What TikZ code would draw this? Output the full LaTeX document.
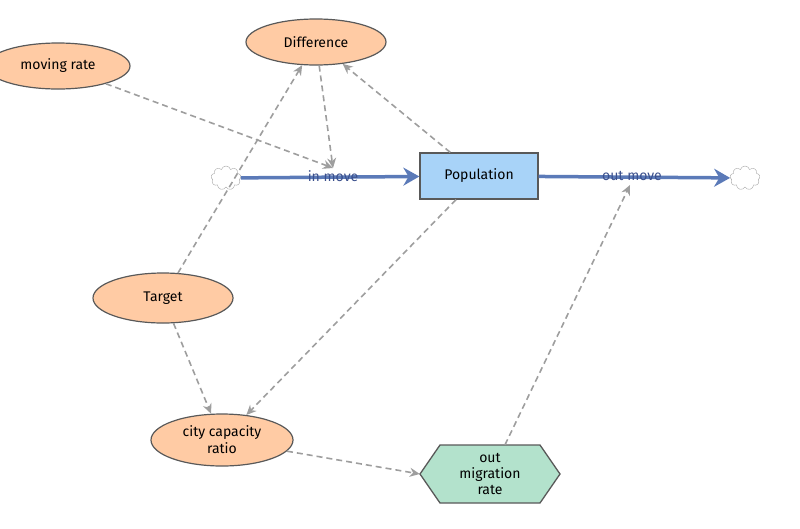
\documentclass[tikz,border=0pt]{standalone}
\usepackage{fontspec}
\setmainfont{Fira Sans}
\usetikzlibrary{shapes.geometric,shapes.symbols,arrows.meta}
\definecolor{aux}{HTML}{FFCBA4}
\definecolor{stock}{HTML}{A8D3F8}
\definecolor{hex}{HTML}{B3E2CC}
\definecolor{flow}{HTML}{5B7AB8}
\definecolor{flowtxt}{HTML}{3A4F8C}
\tikzset{
 txt/.style={font=\fontsize{14}{17}\selectfont},
 aux/.style={ellipse,draw=black!65,fill=aux,line width=1.2pt,minimum width=140pt,minimum height=46pt,inner sep=0pt,align=center,txt},
 link/.style={draw=black!38,dash pattern=on 6pt off 4pt,line width=1.6pt,-{Stealth[length=10pt,width=9pt]}},
 flowl/.style={draw=flow,line width=3.5pt,-{Stealth[length=16pt,width=18pt]}},
 cloudy/.style={cloud,cloud puffs=9,draw=black!35,fill=white,minimum width=30pt,minimum height=24pt,inner sep=0pt},
 lab/.style={text=flowtxt,txt,inner sep=1pt}
}
\begin{document}
\begin{tikzpicture}[x=1pt,y=-1pt]
\useasboundingbox (0,0) rectangle (800,528);
\node[aux] (diff) at (316,42) {Difference};
\node[aux,minimum width=144pt] (mr) at (58,66) {moving rate};
\node[aux,minimum height=50pt] (tg) at (163,298) {Target};
\node[aux,minimum width=142pt,minimum height=52pt] (ccr) at (222,440) {city capacity\\ratio};
\node[draw=black!65,fill=stock,line width=1.3pt,minimum width=118pt,minimum height=46pt,txt] (pop) at (479,176) {Population};
\fill[hex] (420,474)--(440,445)--(540,445)--(560,474)--(540,503)--(440,503)--cycle;
\draw[black!65,line width=1.3pt] (420,474)--(440,445)--(540,445)--(560,474)--(540,503)--(440,503)--cycle;
\node[align=center,txt,minimum width=140pt,minimum height=58pt,inner sep=0pt] (omr) at (490,474) {out\\[-1pt]migration\\[-1pt]rate};
\node[cloudy] (c1) at (226,178) {};
\node[cloudy] (c2) at (745,178) {};
\draw[flowl] (c1) -- (pop);
\draw[flowl] (pop) -- (c2);
\node[lab] (im) at (333,176) {in move};
\node[lab] (om) at (632,176) {out move};
\coordinate (imt) at (333,168);
\coordinate (omb) at (630,185);
\draw[link] (mr) -- (imt);
\draw[link] (diff) -- (imt);
\draw[link] (pop) -- (diff);
\draw[link] (tg) -- (diff);
\draw[link] (tg) -- (ccr);
\draw[link] (pop) -- (ccr);
\draw[link] (ccr) -- (omr.west);
\draw[link] (omr.north) ++(15,0) -- (omb);
\end{tikzpicture}
\end{document}
